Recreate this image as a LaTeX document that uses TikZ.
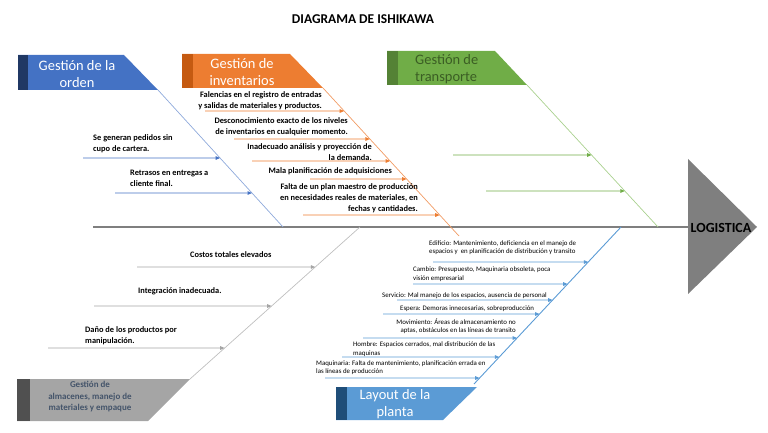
\documentclass[tikz,border=0pt]{standalone}
\usepackage{fontspec}
\setmainfont{Carlito}
\usetikzlibrary{arrows.meta,calc}
\definecolor{ordblue}{HTML}{4472C4}
\definecolor{orddark}{HTML}{203864}
\definecolor{ordbone}{HTML}{8EA9DB}
\definecolor{invorange}{HTML}{ED7D31}
\definecolor{invdark}{HTML}{C55A11}
\definecolor{invbone}{HTML}{F19C65}
\definecolor{tragreen}{HTML}{70AD47}
\definecolor{tradark}{HTML}{548235}
\definecolor{trabone}{HTML}{A9D18E}
\definecolor{tratext}{HTML}{3B5E24}
\definecolor{almgray}{HTML}{A5A5A5}
\definecolor{almdark}{HTML}{505050}
\definecolor{almbone}{HTML}{BFBFBF}
\definecolor{almtext}{HTML}{44546A}
\definecolor{layblue}{HTML}{5B9BD5}
\definecolor{laydark}{HTML}{1F4E79}
\definecolor{headgray}{HTML}{7F7F7F}
\tikzset{
  spine/.style={line width=2.8bp,draw=headgray},
  bone/.style={line width=0.7bp},
  causearr/.style={-{Triangle[length=4.5bp,width=3.6bp]},line width=0.9bp},
  boxtitle/.style={font=\fontsize{14.5}{17}\selectfont,text=white,align=center,inner sep=0pt},
  causetxt/.style={font=\bfseries\fontsize{8.4}{10.8}\selectfont,inner sep=0pt},
  laytxt/.style={font=\fontsize{6.9}{8.5}\selectfont,inner sep=0pt,align=left,anchor=west},
}
\begin{document}
\begin{tikzpicture}[x=1bp,y=-1bp]
  \useasboundingbox (0,0) rectangle (768,433);
  \node[font=\bfseries\fontsize{13.5}{16}\selectfont] (title) at (363,19) {DIAGRAMA DE ISHIKAWA};
  % ---- spine and head ----
  \coordinate (tail) at (93,227);
  \coordinate (neck) at (688,227);
  \draw[spine] (tail) -- (neck);
  \fill[headgray] (688,159) -- (757,227) -- (688,294) -- cycle;
  \node[font=\bfseries\fontsize{14}{16}\selectfont] (effect) at (721,228) {LOGISTICA};
  % ---- Gestion de la orden ----
  \fill[ordblue] (18,55) -- (124,55) -- (158,90) -- (18,90) -- cycle;
  \fill[orddark] (18,55) rectangle (28,90);
  \node[boxtitle] (ord) at (77,74) {Gestión de la\\orden};
  \coordinate (ord-top) at (158,90);
  \coordinate (ord-end) at (283,227);
  \draw[bone,ordbone] (ord-top) -- (ord-end);
  \foreach \i/\x/\y in {1/83/158,2/115/193}{
    \coordinate (ord-t\i) at (\x,\y);
    \coordinate (ord-h\i) at (intersection of ord-top--ord-end and ord-t\i--0,\y);
    \draw[causearr,ordblue] (ord-t\i) -- (ord-h\i);
  }
  \node[causetxt,align=left,anchor=west] (ord-c1) at (93,144) {Se generan pedidos sin\\cupo de cartera.};
  \node[causetxt,align=left,anchor=west] (ord-c2) at (130,178) {Retrasos en entregas a\\cliente final.};
  % ---- Gestion de inventarios ----
  \fill[invorange] (182,54) -- (290,54) -- (323,88) -- (182,88) -- cycle;
  \fill[invdark] (182,54) rectangle (193,88);
  \node[boxtitle] (inv) at (242,72) {Gestión de\\inventarios};
  \coordinate (inv-top) at (323,88);
  \coordinate (inv-end) at (459,236);
  \draw[bone,invbone] (inv-top) -- (inv-end);
  \foreach \i/\x/\y in {1/205/111,2/234/139,3/252/161,4/310/179,5/303/215}{
    \coordinate (inv-t\i) at (\x,\y);
    \coordinate (inv-h\i) at (intersection of inv-top--inv-end and inv-t\i--0,\y);
    \draw[causearr,invorange] (inv-t\i) -- (inv-h\i);
  }
  \node[causetxt,align=right,anchor=east] (inv-c1) at (322,100.5) {Falencias en el registro de entradas\\y salidas de materiales y productos.};
  \node[causetxt,align=right,anchor=east] (inv-c2) at (348,126.5) {Desconocimiento exacto de los niveles\\de inventarios en cualquier momento.};
  \node[causetxt,align=right,anchor=east] (inv-c3) at (372,152) {Inadecuado análisis y proyección de\\la demanda.};
  \node[causetxt,anchor=east] (inv-c4) at (392,171) {Mala planificación de adquisiciones};
  \node[causetxt,align=right,anchor=east] (inv-c5) at (418,198) {Falta de un plan maestro de producción\\en necesidades reales de materiales, en\\fechas y cantidades.};
  % ---- Gestion de transporte ----
  \fill[tragreen] (387,51) -- (495,51) -- (527,85) -- (387,85) -- cycle;
  \fill[tradark] (387,51) rectangle (398,85);
  \node[boxtitle,text=tratext,align=left,anchor=west] (tra) at (415,69) {Gestión de\\transporte};
  \coordinate (tra-top) at (527,85);
  \coordinate (tra-end) at (658,227);
  \draw[bone,trabone] (tra-top) -- (tra-end);
  \foreach \i/\x/\y in {1/453/155,2/486/191}{
    \coordinate (tra-t\i) at (\x,\y);
    \coordinate (tra-h\i) at (intersection of tra-top--tra-end and tra-t\i--0,\y);
    \draw[causearr,tragreen] (tra-t\i) -- (tra-h\i);
  }
  % ---- Gestion de almacenes ----
  \fill[almgray] (17,379) -- (190,379) -- (148,421) -- (17,421) -- cycle;
  \fill[almdark] (17,379) rectangle (30,421);
  \node[font=\bfseries\fontsize{9}{11.5}\selectfont,text=almtext,align=center] (alm) at (90,397)
    {Gestión de\\almacenes, manejo de\\materiales y empaque};
  \coordinate (alm-top) at (190,379);
  \coordinate (alm-end) at (360,227);
  \draw[bone,almbone] (alm-top) -- (alm-end);
  \foreach \i/\x/\y in {1/137/267,2/94/306,3/48/348}{
    \coordinate (alm-t\i) at (\x,\y);
    \coordinate (alm-h\i) at (intersection of alm-top--alm-end and alm-t\i--0,\y);
    \draw[causearr,almgray] (alm-t\i) -- (alm-h\i);
  }
  \node[causetxt,anchor=west] (alm-c1) at (190,255) {Costos totales elevados};
  \node[causetxt,anchor=west] (alm-c2) at (138,291) {Integración inadecuada.};
  \node[causetxt,align=left,anchor=west] (alm-c3) at (85,336) {Daño de los productos por\\manipulación.};
  % ---- Layout de la planta ----
  \fill[layblue] (336,387) -- (477,387) -- (443,420) -- (336,420) -- cycle;
  \fill[laydark] (336,387) rectangle (347,420);
  \node[boxtitle] (lay) at (395,404) {Layout de la\\planta};
  \coordinate (lay-top) at (474,384);
  \coordinate (lay-end) at (621,227);
  \draw[bone,layblue,line width=0.9bp] (lay-top) -- (lay-end);
  \foreach \i/\x/\y in {1/433/262,2/413/284,3/397/300,4/383/314,5/363/338,6/342/357,7/325/378}{
    \coordinate (lay-t\i) at (\x,\y);
    \coordinate (lay-h\i) at (intersection of lay-top--lay-end and lay-t\i--0,\y);
    \draw[causearr,layblue] (lay-t\i) -- (lay-h\i);
  }
  \node[laytxt] (lay-c1) at (429,247.5) {Edificio: Mantenimiento, deficiencia en el manejo de\\espacios y\ \ en planificación de distribución y transito};
  \node[laytxt] (lay-c2) at (413,274) {Cambio: Presupuesto, Maquinaria obsoleta, poca\\visión empresarial};
  \node[laytxt] (lay-c3) at (382,296) {Servicio: Mal manejo de los espacios, ausencia de personal};
  \node[laytxt] (lay-c4) at (400,309) {Espera: Demoras innecesarias, sobreproducción};
  \node[laytxt,align=right,anchor=east] (lay-c5) at (516,326) {Movimiento: Áreas de almacenamiento no\\aptas, obstáculos en las líneas de transito};
  \node[laytxt] (lay-c6) at (353,349) {Hombre: Espacios cerrados, mal distribución de las\\maquinas};
  \node[laytxt] (lay-c7) at (316,367.5) {Maquinaria: Falta de mantenimiento, planificación errada en\\las líneas de producción};
\end{tikzpicture}
\end{document}
